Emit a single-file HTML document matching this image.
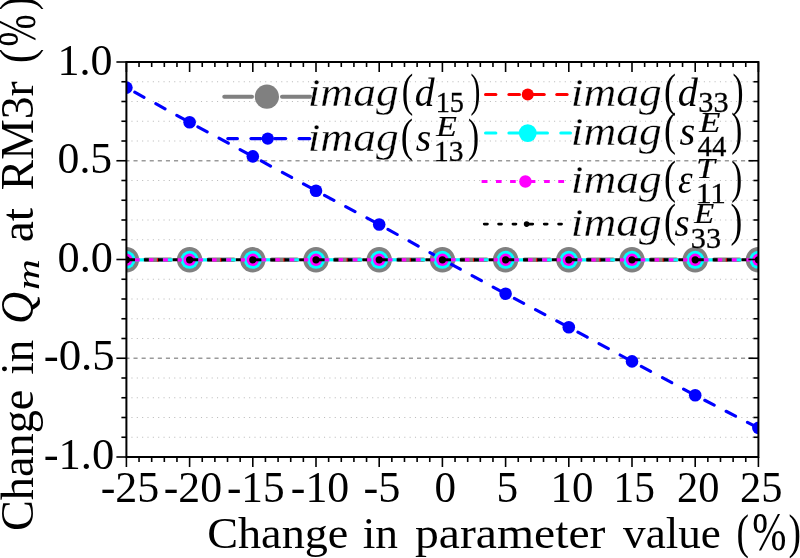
<!DOCTYPE html>
<html><head><meta charset="utf-8"><title>Change in Qm at RM3r</title>
<style>html,body{margin:0;padding:0;background:#fff;overflow:hidden}svg{display:block}</style></head>
<body>
<svg width="800" height="558" viewBox="0 0 800 558">
<defs><clipPath id="ax"><rect x="126.4" y="62.0" width="632.00" height="395.00"/></clipPath></defs>
<rect width="800" height="558" fill="#fff"/>
<g id="grid">
<line x1="126.4" x2="758.4" y1="437.25" y2="437.25" stroke="#bdbdbd" stroke-width="1.1" stroke-dasharray="1.1 4.25" stroke-dashoffset="-5"/>
<line x1="126.4" x2="758.4" y1="417.50" y2="417.50" stroke="#bdbdbd" stroke-width="1.1" stroke-dasharray="1.1 4.25" stroke-dashoffset="-5"/>
<line x1="126.4" x2="758.4" y1="397.75" y2="397.75" stroke="#bdbdbd" stroke-width="1.1" stroke-dasharray="1.1 4.25" stroke-dashoffset="-5"/>
<line x1="126.4" x2="758.4" y1="378.00" y2="378.00" stroke="#bdbdbd" stroke-width="1.1" stroke-dasharray="1.1 4.25" stroke-dashoffset="-5"/>
<line x1="126.4" x2="758.4" y1="358.25" y2="358.25" stroke="#9a9a9a" stroke-width="1.6" stroke-dasharray="4.1 4" stroke-dashoffset="1"/>
<line x1="126.4" x2="758.4" y1="338.50" y2="338.50" stroke="#bdbdbd" stroke-width="1.1" stroke-dasharray="1.1 4.25" stroke-dashoffset="-5"/>
<line x1="126.4" x2="758.4" y1="318.75" y2="318.75" stroke="#bdbdbd" stroke-width="1.1" stroke-dasharray="1.1 4.25" stroke-dashoffset="-5"/>
<line x1="126.4" x2="758.4" y1="299.00" y2="299.00" stroke="#bdbdbd" stroke-width="1.1" stroke-dasharray="1.1 4.25" stroke-dashoffset="-5"/>
<line x1="126.4" x2="758.4" y1="279.25" y2="279.25" stroke="#bdbdbd" stroke-width="1.1" stroke-dasharray="1.1 4.25" stroke-dashoffset="-5"/>
<line x1="126.4" x2="758.4" y1="259.50" y2="259.50" stroke="#9a9a9a" stroke-width="1.6" stroke-dasharray="4.1 4" stroke-dashoffset="1"/>
<line x1="126.4" x2="758.4" y1="239.75" y2="239.75" stroke="#bdbdbd" stroke-width="1.1" stroke-dasharray="1.1 4.25" stroke-dashoffset="-5"/>
<line x1="126.4" x2="758.4" y1="220.00" y2="220.00" stroke="#bdbdbd" stroke-width="1.1" stroke-dasharray="1.1 4.25" stroke-dashoffset="-5"/>
<line x1="126.4" x2="758.4" y1="200.25" y2="200.25" stroke="#bdbdbd" stroke-width="1.1" stroke-dasharray="1.1 4.25" stroke-dashoffset="-5"/>
<line x1="126.4" x2="758.4" y1="180.50" y2="180.50" stroke="#bdbdbd" stroke-width="1.1" stroke-dasharray="1.1 4.25" stroke-dashoffset="-5"/>
<line x1="126.4" x2="758.4" y1="160.75" y2="160.75" stroke="#9a9a9a" stroke-width="1.6" stroke-dasharray="4.1 4" stroke-dashoffset="1"/>
<line x1="126.4" x2="758.4" y1="141.00" y2="141.00" stroke="#bdbdbd" stroke-width="1.1" stroke-dasharray="1.1 4.25" stroke-dashoffset="-5"/>
<line x1="126.4" x2="758.4" y1="121.25" y2="121.25" stroke="#bdbdbd" stroke-width="1.1" stroke-dasharray="1.1 4.25" stroke-dashoffset="-5"/>
<line x1="126.4" x2="758.4" y1="101.50" y2="101.50" stroke="#bdbdbd" stroke-width="1.1" stroke-dasharray="1.1 4.25" stroke-dashoffset="-5"/>
<line x1="126.4" x2="758.4" y1="81.75" y2="81.75" stroke="#bdbdbd" stroke-width="1.1" stroke-dasharray="1.1 4.25" stroke-dashoffset="-5"/>
</g>
<g clip-path="url(#ax)">
<line x1="145.40" x2="170.70" y1="259.8" y2="259.8" stroke="#808080" stroke-width="4.4" stroke-linecap="round"/>
<line x1="208.60" x2="233.90" y1="259.8" y2="259.8" stroke="#808080" stroke-width="4.4" stroke-linecap="round"/>
<line x1="271.80" x2="297.10" y1="259.8" y2="259.8" stroke="#808080" stroke-width="4.4" stroke-linecap="round"/>
<line x1="335.00" x2="360.30" y1="259.8" y2="259.8" stroke="#808080" stroke-width="4.4" stroke-linecap="round"/>
<line x1="398.20" x2="423.50" y1="259.8" y2="259.8" stroke="#808080" stroke-width="4.4" stroke-linecap="round"/>
<line x1="461.40" x2="486.70" y1="259.8" y2="259.8" stroke="#808080" stroke-width="4.4" stroke-linecap="round"/>
<line x1="524.60" x2="549.90" y1="259.8" y2="259.8" stroke="#808080" stroke-width="4.4" stroke-linecap="round"/>
<line x1="587.80" x2="613.10" y1="259.8" y2="259.8" stroke="#808080" stroke-width="4.4" stroke-linecap="round"/>
<line x1="651.00" x2="676.30" y1="259.8" y2="259.8" stroke="#808080" stroke-width="4.4" stroke-linecap="round"/>
<line x1="714.20" x2="739.50" y1="259.8" y2="259.8" stroke="#808080" stroke-width="4.4" stroke-linecap="round"/>
<circle cx="126.40" cy="259.8" r="12.7" fill="#808080"/>
<circle cx="189.60" cy="259.8" r="12.7" fill="#808080"/>
<circle cx="252.80" cy="259.8" r="12.7" fill="#808080"/>
<circle cx="316.00" cy="259.8" r="12.7" fill="#808080"/>
<circle cx="379.20" cy="259.8" r="12.7" fill="#808080"/>
<circle cx="442.40" cy="259.8" r="12.7" fill="#808080"/>
<circle cx="505.60" cy="259.8" r="12.7" fill="#808080"/>
<circle cx="568.80" cy="259.8" r="12.7" fill="#808080"/>
<circle cx="632.00" cy="259.8" r="12.7" fill="#808080"/>
<circle cx="695.20" cy="259.8" r="12.7" fill="#808080"/>
<circle cx="758.40" cy="259.8" r="12.7" fill="#808080"/>
<polyline points="126.40,87.60 189.60,122.30 252.80,156.40 316.00,190.70 379.20,224.50 442.40,259.50 505.60,293.80 568.80,327.30 632.00,361.40 695.20,395.30 758.40,427.90" fill="none" stroke="#0000ff" stroke-width="3.1" stroke-linecap="round" stroke-dasharray="10.6 13.4" stroke-dashoffset="14.5"/>
<circle cx="126.40" cy="87.60" r="6.3" fill="#0000ff"/>
<circle cx="189.60" cy="122.30" r="6.3" fill="#0000ff"/>
<circle cx="252.80" cy="156.40" r="6.3" fill="#0000ff"/>
<circle cx="316.00" cy="190.70" r="6.3" fill="#0000ff"/>
<circle cx="379.20" cy="224.50" r="6.3" fill="#0000ff"/>
<circle cx="442.40" cy="259.50" r="6.3" fill="#0000ff"/>
<circle cx="505.60" cy="293.80" r="6.3" fill="#0000ff"/>
<circle cx="568.80" cy="327.30" r="6.3" fill="#0000ff"/>
<circle cx="632.00" cy="361.40" r="6.3" fill="#0000ff"/>
<circle cx="695.20" cy="395.30" r="6.3" fill="#0000ff"/>
<circle cx="758.40" cy="427.90" r="6.3" fill="#0000ff"/>
<line x1="156.90" x2="170.40" y1="259.8" y2="259.8" stroke="#ff0000" stroke-width="3.2" stroke-linecap="butt"/>
<line x1="220.10" x2="233.60" y1="259.8" y2="259.8" stroke="#ff0000" stroke-width="3.2" stroke-linecap="butt"/>
<line x1="283.30" x2="296.80" y1="259.8" y2="259.8" stroke="#ff0000" stroke-width="3.2" stroke-linecap="butt"/>
<line x1="346.50" x2="360.00" y1="259.8" y2="259.8" stroke="#ff0000" stroke-width="3.2" stroke-linecap="butt"/>
<line x1="409.70" x2="423.20" y1="259.8" y2="259.8" stroke="#ff0000" stroke-width="3.2" stroke-linecap="butt"/>
<line x1="472.90" x2="486.40" y1="259.8" y2="259.8" stroke="#ff0000" stroke-width="3.2" stroke-linecap="butt"/>
<line x1="536.10" x2="549.60" y1="259.8" y2="259.8" stroke="#ff0000" stroke-width="3.2" stroke-linecap="butt"/>
<line x1="599.30" x2="612.80" y1="259.8" y2="259.8" stroke="#ff0000" stroke-width="3.2" stroke-linecap="butt"/>
<line x1="662.50" x2="676.00" y1="259.8" y2="259.8" stroke="#ff0000" stroke-width="3.2" stroke-linecap="butt"/>
<line x1="725.70" x2="739.20" y1="259.8" y2="259.8" stroke="#ff0000" stroke-width="3.2" stroke-linecap="butt"/>
<circle cx="126.40" cy="259.8" r="6" fill="#ff0000"/>
<circle cx="189.60" cy="259.8" r="6" fill="#ff0000"/>
<circle cx="252.80" cy="259.8" r="6" fill="#ff0000"/>
<circle cx="316.00" cy="259.8" r="6" fill="#ff0000"/>
<circle cx="379.20" cy="259.8" r="6" fill="#ff0000"/>
<circle cx="442.40" cy="259.8" r="6" fill="#ff0000"/>
<circle cx="505.60" cy="259.8" r="6" fill="#ff0000"/>
<circle cx="568.80" cy="259.8" r="6" fill="#ff0000"/>
<circle cx="632.00" cy="259.8" r="6" fill="#ff0000"/>
<circle cx="695.20" cy="259.8" r="6" fill="#ff0000"/>
<circle cx="758.40" cy="259.8" r="6" fill="#ff0000"/>
<line x1="130.40" x2="143.90" y1="259.8" y2="259.8" stroke="#00ffff" stroke-width="3.2" stroke-linecap="butt"/>
<line x1="158.90" x2="172.40" y1="259.8" y2="259.8" stroke="#00ffff" stroke-width="3.2" stroke-linecap="butt"/>
<line x1="193.60" x2="207.10" y1="259.8" y2="259.8" stroke="#00ffff" stroke-width="3.2" stroke-linecap="butt"/>
<line x1="222.10" x2="235.60" y1="259.8" y2="259.8" stroke="#00ffff" stroke-width="3.2" stroke-linecap="butt"/>
<line x1="256.80" x2="270.30" y1="259.8" y2="259.8" stroke="#00ffff" stroke-width="3.2" stroke-linecap="butt"/>
<line x1="285.30" x2="298.80" y1="259.8" y2="259.8" stroke="#00ffff" stroke-width="3.2" stroke-linecap="butt"/>
<line x1="320.00" x2="333.50" y1="259.8" y2="259.8" stroke="#00ffff" stroke-width="3.2" stroke-linecap="butt"/>
<line x1="348.50" x2="362.00" y1="259.8" y2="259.8" stroke="#00ffff" stroke-width="3.2" stroke-linecap="butt"/>
<line x1="383.20" x2="396.70" y1="259.8" y2="259.8" stroke="#00ffff" stroke-width="3.2" stroke-linecap="butt"/>
<line x1="411.70" x2="425.20" y1="259.8" y2="259.8" stroke="#00ffff" stroke-width="3.2" stroke-linecap="butt"/>
<line x1="446.40" x2="459.90" y1="259.8" y2="259.8" stroke="#00ffff" stroke-width="3.2" stroke-linecap="butt"/>
<line x1="474.90" x2="488.40" y1="259.8" y2="259.8" stroke="#00ffff" stroke-width="3.2" stroke-linecap="butt"/>
<line x1="509.60" x2="523.10" y1="259.8" y2="259.8" stroke="#00ffff" stroke-width="3.2" stroke-linecap="butt"/>
<line x1="538.10" x2="551.60" y1="259.8" y2="259.8" stroke="#00ffff" stroke-width="3.2" stroke-linecap="butt"/>
<line x1="572.80" x2="586.30" y1="259.8" y2="259.8" stroke="#00ffff" stroke-width="3.2" stroke-linecap="butt"/>
<line x1="601.30" x2="614.80" y1="259.8" y2="259.8" stroke="#00ffff" stroke-width="3.2" stroke-linecap="butt"/>
<line x1="636.00" x2="649.50" y1="259.8" y2="259.8" stroke="#00ffff" stroke-width="3.2" stroke-linecap="butt"/>
<line x1="664.50" x2="678.00" y1="259.8" y2="259.8" stroke="#00ffff" stroke-width="3.2" stroke-linecap="butt"/>
<line x1="699.20" x2="712.70" y1="259.8" y2="259.8" stroke="#00ffff" stroke-width="3.2" stroke-linecap="butt"/>
<line x1="727.70" x2="741.20" y1="259.8" y2="259.8" stroke="#00ffff" stroke-width="3.2" stroke-linecap="butt"/>
<circle cx="126.40" cy="259.8" r="9" fill="#00ffff"/>
<circle cx="189.60" cy="259.8" r="9" fill="#00ffff"/>
<circle cx="252.80" cy="259.8" r="9" fill="#00ffff"/>
<circle cx="316.00" cy="259.8" r="9" fill="#00ffff"/>
<circle cx="379.20" cy="259.8" r="9" fill="#00ffff"/>
<circle cx="442.40" cy="259.8" r="9" fill="#00ffff"/>
<circle cx="505.60" cy="259.8" r="9" fill="#00ffff"/>
<circle cx="568.80" cy="259.8" r="9" fill="#00ffff"/>
<circle cx="632.00" cy="259.8" r="9" fill="#00ffff"/>
<circle cx="695.20" cy="259.8" r="9" fill="#00ffff"/>
<circle cx="758.40" cy="259.8" r="9" fill="#00ffff"/>
<line x1="135.00" x2="139.70" y1="259.8" y2="259.8" stroke="#ff00ff" stroke-width="3.2" stroke-linecap="butt"/>
<line x1="148.90" x2="153.40" y1="259.8" y2="259.8" stroke="#ff00ff" stroke-width="3.2" stroke-linecap="butt"/>
<line x1="163.00" x2="167.90" y1="259.8" y2="259.8" stroke="#ff00ff" stroke-width="3.2" stroke-linecap="butt"/>
<line x1="177.40" x2="181.90" y1="259.8" y2="259.8" stroke="#ff00ff" stroke-width="3.2" stroke-linecap="butt"/>
<line x1="198.20" x2="202.90" y1="259.8" y2="259.8" stroke="#ff00ff" stroke-width="3.2" stroke-linecap="butt"/>
<line x1="212.10" x2="216.60" y1="259.8" y2="259.8" stroke="#ff00ff" stroke-width="3.2" stroke-linecap="butt"/>
<line x1="226.20" x2="231.10" y1="259.8" y2="259.8" stroke="#ff00ff" stroke-width="3.2" stroke-linecap="butt"/>
<line x1="240.60" x2="245.10" y1="259.8" y2="259.8" stroke="#ff00ff" stroke-width="3.2" stroke-linecap="butt"/>
<line x1="261.40" x2="266.10" y1="259.8" y2="259.8" stroke="#ff00ff" stroke-width="3.2" stroke-linecap="butt"/>
<line x1="275.30" x2="279.80" y1="259.8" y2="259.8" stroke="#ff00ff" stroke-width="3.2" stroke-linecap="butt"/>
<line x1="289.40" x2="294.30" y1="259.8" y2="259.8" stroke="#ff00ff" stroke-width="3.2" stroke-linecap="butt"/>
<line x1="303.80" x2="308.30" y1="259.8" y2="259.8" stroke="#ff00ff" stroke-width="3.2" stroke-linecap="butt"/>
<line x1="324.60" x2="329.30" y1="259.8" y2="259.8" stroke="#ff00ff" stroke-width="3.2" stroke-linecap="butt"/>
<line x1="338.50" x2="343.00" y1="259.8" y2="259.8" stroke="#ff00ff" stroke-width="3.2" stroke-linecap="butt"/>
<line x1="352.60" x2="357.50" y1="259.8" y2="259.8" stroke="#ff00ff" stroke-width="3.2" stroke-linecap="butt"/>
<line x1="367.00" x2="371.50" y1="259.8" y2="259.8" stroke="#ff00ff" stroke-width="3.2" stroke-linecap="butt"/>
<line x1="387.80" x2="392.50" y1="259.8" y2="259.8" stroke="#ff00ff" stroke-width="3.2" stroke-linecap="butt"/>
<line x1="401.70" x2="406.20" y1="259.8" y2="259.8" stroke="#ff00ff" stroke-width="3.2" stroke-linecap="butt"/>
<line x1="415.80" x2="420.70" y1="259.8" y2="259.8" stroke="#ff00ff" stroke-width="3.2" stroke-linecap="butt"/>
<line x1="430.20" x2="434.70" y1="259.8" y2="259.8" stroke="#ff00ff" stroke-width="3.2" stroke-linecap="butt"/>
<line x1="451.00" x2="455.70" y1="259.8" y2="259.8" stroke="#ff00ff" stroke-width="3.2" stroke-linecap="butt"/>
<line x1="464.90" x2="469.40" y1="259.8" y2="259.8" stroke="#ff00ff" stroke-width="3.2" stroke-linecap="butt"/>
<line x1="479.00" x2="483.90" y1="259.8" y2="259.8" stroke="#ff00ff" stroke-width="3.2" stroke-linecap="butt"/>
<line x1="493.40" x2="497.90" y1="259.8" y2="259.8" stroke="#ff00ff" stroke-width="3.2" stroke-linecap="butt"/>
<line x1="514.20" x2="518.90" y1="259.8" y2="259.8" stroke="#ff00ff" stroke-width="3.2" stroke-linecap="butt"/>
<line x1="528.10" x2="532.60" y1="259.8" y2="259.8" stroke="#ff00ff" stroke-width="3.2" stroke-linecap="butt"/>
<line x1="542.20" x2="547.10" y1="259.8" y2="259.8" stroke="#ff00ff" stroke-width="3.2" stroke-linecap="butt"/>
<line x1="556.60" x2="561.10" y1="259.8" y2="259.8" stroke="#ff00ff" stroke-width="3.2" stroke-linecap="butt"/>
<line x1="577.40" x2="582.10" y1="259.8" y2="259.8" stroke="#ff00ff" stroke-width="3.2" stroke-linecap="butt"/>
<line x1="591.30" x2="595.80" y1="259.8" y2="259.8" stroke="#ff00ff" stroke-width="3.2" stroke-linecap="butt"/>
<line x1="605.40" x2="610.30" y1="259.8" y2="259.8" stroke="#ff00ff" stroke-width="3.2" stroke-linecap="butt"/>
<line x1="619.80" x2="624.30" y1="259.8" y2="259.8" stroke="#ff00ff" stroke-width="3.2" stroke-linecap="butt"/>
<line x1="640.60" x2="645.30" y1="259.8" y2="259.8" stroke="#ff00ff" stroke-width="3.2" stroke-linecap="butt"/>
<line x1="654.50" x2="659.00" y1="259.8" y2="259.8" stroke="#ff00ff" stroke-width="3.2" stroke-linecap="butt"/>
<line x1="668.60" x2="673.50" y1="259.8" y2="259.8" stroke="#ff00ff" stroke-width="3.2" stroke-linecap="butt"/>
<line x1="683.00" x2="687.50" y1="259.8" y2="259.8" stroke="#ff00ff" stroke-width="3.2" stroke-linecap="butt"/>
<line x1="703.80" x2="708.50" y1="259.8" y2="259.8" stroke="#ff00ff" stroke-width="3.2" stroke-linecap="butt"/>
<line x1="717.70" x2="722.20" y1="259.8" y2="259.8" stroke="#ff00ff" stroke-width="3.2" stroke-linecap="butt"/>
<line x1="731.80" x2="736.70" y1="259.8" y2="259.8" stroke="#ff00ff" stroke-width="3.2" stroke-linecap="butt"/>
<line x1="746.20" x2="750.70" y1="259.8" y2="259.8" stroke="#ff00ff" stroke-width="3.2" stroke-linecap="butt"/>
<circle cx="126.40" cy="259.8" r="6.2" fill="#ff00ff"/>
<circle cx="189.60" cy="259.8" r="6.2" fill="#ff00ff"/>
<circle cx="252.80" cy="259.8" r="6.2" fill="#ff00ff"/>
<circle cx="316.00" cy="259.8" r="6.2" fill="#ff00ff"/>
<circle cx="379.20" cy="259.8" r="6.2" fill="#ff00ff"/>
<circle cx="442.40" cy="259.8" r="6.2" fill="#ff00ff"/>
<circle cx="505.60" cy="259.8" r="6.2" fill="#ff00ff"/>
<circle cx="568.80" cy="259.8" r="6.2" fill="#ff00ff"/>
<circle cx="632.00" cy="259.8" r="6.2" fill="#ff00ff"/>
<circle cx="695.20" cy="259.8" r="6.2" fill="#ff00ff"/>
<circle cx="758.40" cy="259.8" r="6.2" fill="#ff00ff"/>
<line x1="126.40" x2="135.00" y1="259.8" y2="259.8" stroke="#000000" stroke-width="3.0" stroke-linecap="butt"/>
<line x1="143.90" x2="148.80" y1="259.8" y2="259.8" stroke="#000000" stroke-width="3.0" stroke-linecap="butt"/>
<line x1="158.00" x2="162.90" y1="259.8" y2="259.8" stroke="#000000" stroke-width="3.0" stroke-linecap="butt"/>
<line x1="172.80" x2="177.50" y1="259.8" y2="259.8" stroke="#000000" stroke-width="3.0" stroke-linecap="butt"/>
<line x1="189.60" x2="198.20" y1="259.8" y2="259.8" stroke="#000000" stroke-width="3.0" stroke-linecap="butt"/>
<line x1="207.10" x2="212.00" y1="259.8" y2="259.8" stroke="#000000" stroke-width="3.0" stroke-linecap="butt"/>
<line x1="221.20" x2="226.10" y1="259.8" y2="259.8" stroke="#000000" stroke-width="3.0" stroke-linecap="butt"/>
<line x1="236.00" x2="240.70" y1="259.8" y2="259.8" stroke="#000000" stroke-width="3.0" stroke-linecap="butt"/>
<line x1="252.80" x2="261.40" y1="259.8" y2="259.8" stroke="#000000" stroke-width="3.0" stroke-linecap="butt"/>
<line x1="270.30" x2="275.20" y1="259.8" y2="259.8" stroke="#000000" stroke-width="3.0" stroke-linecap="butt"/>
<line x1="284.40" x2="289.30" y1="259.8" y2="259.8" stroke="#000000" stroke-width="3.0" stroke-linecap="butt"/>
<line x1="299.20" x2="303.90" y1="259.8" y2="259.8" stroke="#000000" stroke-width="3.0" stroke-linecap="butt"/>
<line x1="316.00" x2="324.60" y1="259.8" y2="259.8" stroke="#000000" stroke-width="3.0" stroke-linecap="butt"/>
<line x1="333.50" x2="338.40" y1="259.8" y2="259.8" stroke="#000000" stroke-width="3.0" stroke-linecap="butt"/>
<line x1="347.60" x2="352.50" y1="259.8" y2="259.8" stroke="#000000" stroke-width="3.0" stroke-linecap="butt"/>
<line x1="362.40" x2="367.10" y1="259.8" y2="259.8" stroke="#000000" stroke-width="3.0" stroke-linecap="butt"/>
<line x1="379.20" x2="387.80" y1="259.8" y2="259.8" stroke="#000000" stroke-width="3.0" stroke-linecap="butt"/>
<line x1="396.70" x2="401.60" y1="259.8" y2="259.8" stroke="#000000" stroke-width="3.0" stroke-linecap="butt"/>
<line x1="410.80" x2="415.70" y1="259.8" y2="259.8" stroke="#000000" stroke-width="3.0" stroke-linecap="butt"/>
<line x1="425.60" x2="430.30" y1="259.8" y2="259.8" stroke="#000000" stroke-width="3.0" stroke-linecap="butt"/>
<line x1="442.40" x2="451.00" y1="259.8" y2="259.8" stroke="#000000" stroke-width="3.0" stroke-linecap="butt"/>
<line x1="459.90" x2="464.80" y1="259.8" y2="259.8" stroke="#000000" stroke-width="3.0" stroke-linecap="butt"/>
<line x1="474.00" x2="478.90" y1="259.8" y2="259.8" stroke="#000000" stroke-width="3.0" stroke-linecap="butt"/>
<line x1="488.80" x2="493.50" y1="259.8" y2="259.8" stroke="#000000" stroke-width="3.0" stroke-linecap="butt"/>
<line x1="505.60" x2="514.20" y1="259.8" y2="259.8" stroke="#000000" stroke-width="3.0" stroke-linecap="butt"/>
<line x1="523.10" x2="528.00" y1="259.8" y2="259.8" stroke="#000000" stroke-width="3.0" stroke-linecap="butt"/>
<line x1="537.20" x2="542.10" y1="259.8" y2="259.8" stroke="#000000" stroke-width="3.0" stroke-linecap="butt"/>
<line x1="552.00" x2="556.70" y1="259.8" y2="259.8" stroke="#000000" stroke-width="3.0" stroke-linecap="butt"/>
<line x1="568.80" x2="577.40" y1="259.8" y2="259.8" stroke="#000000" stroke-width="3.0" stroke-linecap="butt"/>
<line x1="586.30" x2="591.20" y1="259.8" y2="259.8" stroke="#000000" stroke-width="3.0" stroke-linecap="butt"/>
<line x1="600.40" x2="605.30" y1="259.8" y2="259.8" stroke="#000000" stroke-width="3.0" stroke-linecap="butt"/>
<line x1="615.20" x2="619.90" y1="259.8" y2="259.8" stroke="#000000" stroke-width="3.0" stroke-linecap="butt"/>
<line x1="632.00" x2="640.60" y1="259.8" y2="259.8" stroke="#000000" stroke-width="3.0" stroke-linecap="butt"/>
<line x1="649.50" x2="654.40" y1="259.8" y2="259.8" stroke="#000000" stroke-width="3.0" stroke-linecap="butt"/>
<line x1="663.60" x2="668.50" y1="259.8" y2="259.8" stroke="#000000" stroke-width="3.0" stroke-linecap="butt"/>
<line x1="678.40" x2="683.10" y1="259.8" y2="259.8" stroke="#000000" stroke-width="3.0" stroke-linecap="butt"/>
<line x1="695.20" x2="703.80" y1="259.8" y2="259.8" stroke="#000000" stroke-width="3.0" stroke-linecap="butt"/>
<line x1="712.70" x2="717.60" y1="259.8" y2="259.8" stroke="#000000" stroke-width="3.0" stroke-linecap="butt"/>
<line x1="726.80" x2="731.70" y1="259.8" y2="259.8" stroke="#000000" stroke-width="3.0" stroke-linecap="butt"/>
<line x1="741.60" x2="746.30" y1="259.8" y2="259.8" stroke="#000000" stroke-width="3.0" stroke-linecap="butt"/>
<circle cx="126.40" cy="259.8" r="3.6" fill="#000000"/>
<circle cx="189.60" cy="259.8" r="3.6" fill="#000000"/>
<circle cx="252.80" cy="259.8" r="3.6" fill="#000000"/>
<circle cx="316.00" cy="259.8" r="3.6" fill="#000000"/>
<circle cx="379.20" cy="259.8" r="3.6" fill="#000000"/>
<circle cx="442.40" cy="259.8" r="3.6" fill="#000000"/>
<circle cx="505.60" cy="259.8" r="3.6" fill="#000000"/>
<circle cx="568.80" cy="259.8" r="3.6" fill="#000000"/>
<circle cx="632.00" cy="259.8" r="3.6" fill="#000000"/>
<circle cx="695.20" cy="259.8" r="3.6" fill="#000000"/>
<circle cx="758.40" cy="259.8" r="3.6" fill="#000000"/>
</g>
<g stroke="#000" stroke-width="2" fill="none">
<rect x="126.4" y="62.0" width="632.00" height="395.00"/>
<line x1="126.40" x2="126.40" y1="457.0" y2="467.0" stroke-width="1.6"/>
<line x1="126.40" x2="126.40" y1="62.0" y2="72.0" stroke-width="1.6"/>
<line x1="139.04" x2="139.04" y1="457.0" y2="462.0" stroke-width="1.6"/>
<line x1="139.04" x2="139.04" y1="62.0" y2="67.0" stroke-width="1.6"/>
<line x1="151.68" x2="151.68" y1="457.0" y2="462.0" stroke-width="1.6"/>
<line x1="151.68" x2="151.68" y1="62.0" y2="67.0" stroke-width="1.6"/>
<line x1="164.32" x2="164.32" y1="457.0" y2="462.0" stroke-width="1.6"/>
<line x1="164.32" x2="164.32" y1="62.0" y2="67.0" stroke-width="1.6"/>
<line x1="176.96" x2="176.96" y1="457.0" y2="462.0" stroke-width="1.6"/>
<line x1="176.96" x2="176.96" y1="62.0" y2="67.0" stroke-width="1.6"/>
<line x1="189.60" x2="189.60" y1="457.0" y2="467.0" stroke-width="1.6"/>
<line x1="189.60" x2="189.60" y1="62.0" y2="72.0" stroke-width="1.6"/>
<line x1="202.24" x2="202.24" y1="457.0" y2="462.0" stroke-width="1.6"/>
<line x1="202.24" x2="202.24" y1="62.0" y2="67.0" stroke-width="1.6"/>
<line x1="214.88" x2="214.88" y1="457.0" y2="462.0" stroke-width="1.6"/>
<line x1="214.88" x2="214.88" y1="62.0" y2="67.0" stroke-width="1.6"/>
<line x1="227.52" x2="227.52" y1="457.0" y2="462.0" stroke-width="1.6"/>
<line x1="227.52" x2="227.52" y1="62.0" y2="67.0" stroke-width="1.6"/>
<line x1="240.16" x2="240.16" y1="457.0" y2="462.0" stroke-width="1.6"/>
<line x1="240.16" x2="240.16" y1="62.0" y2="67.0" stroke-width="1.6"/>
<line x1="252.80" x2="252.80" y1="457.0" y2="467.0" stroke-width="1.6"/>
<line x1="252.80" x2="252.80" y1="62.0" y2="72.0" stroke-width="1.6"/>
<line x1="265.44" x2="265.44" y1="457.0" y2="462.0" stroke-width="1.6"/>
<line x1="265.44" x2="265.44" y1="62.0" y2="67.0" stroke-width="1.6"/>
<line x1="278.08" x2="278.08" y1="457.0" y2="462.0" stroke-width="1.6"/>
<line x1="278.08" x2="278.08" y1="62.0" y2="67.0" stroke-width="1.6"/>
<line x1="290.72" x2="290.72" y1="457.0" y2="462.0" stroke-width="1.6"/>
<line x1="290.72" x2="290.72" y1="62.0" y2="67.0" stroke-width="1.6"/>
<line x1="303.36" x2="303.36" y1="457.0" y2="462.0" stroke-width="1.6"/>
<line x1="303.36" x2="303.36" y1="62.0" y2="67.0" stroke-width="1.6"/>
<line x1="316.00" x2="316.00" y1="457.0" y2="467.0" stroke-width="1.6"/>
<line x1="316.00" x2="316.00" y1="62.0" y2="72.0" stroke-width="1.6"/>
<line x1="328.64" x2="328.64" y1="457.0" y2="462.0" stroke-width="1.6"/>
<line x1="328.64" x2="328.64" y1="62.0" y2="67.0" stroke-width="1.6"/>
<line x1="341.28" x2="341.28" y1="457.0" y2="462.0" stroke-width="1.6"/>
<line x1="341.28" x2="341.28" y1="62.0" y2="67.0" stroke-width="1.6"/>
<line x1="353.92" x2="353.92" y1="457.0" y2="462.0" stroke-width="1.6"/>
<line x1="353.92" x2="353.92" y1="62.0" y2="67.0" stroke-width="1.6"/>
<line x1="366.56" x2="366.56" y1="457.0" y2="462.0" stroke-width="1.6"/>
<line x1="366.56" x2="366.56" y1="62.0" y2="67.0" stroke-width="1.6"/>
<line x1="379.20" x2="379.20" y1="457.0" y2="467.0" stroke-width="1.6"/>
<line x1="379.20" x2="379.20" y1="62.0" y2="72.0" stroke-width="1.6"/>
<line x1="391.84" x2="391.84" y1="457.0" y2="462.0" stroke-width="1.6"/>
<line x1="391.84" x2="391.84" y1="62.0" y2="67.0" stroke-width="1.6"/>
<line x1="404.48" x2="404.48" y1="457.0" y2="462.0" stroke-width="1.6"/>
<line x1="404.48" x2="404.48" y1="62.0" y2="67.0" stroke-width="1.6"/>
<line x1="417.12" x2="417.12" y1="457.0" y2="462.0" stroke-width="1.6"/>
<line x1="417.12" x2="417.12" y1="62.0" y2="67.0" stroke-width="1.6"/>
<line x1="429.76" x2="429.76" y1="457.0" y2="462.0" stroke-width="1.6"/>
<line x1="429.76" x2="429.76" y1="62.0" y2="67.0" stroke-width="1.6"/>
<line x1="442.40" x2="442.40" y1="457.0" y2="467.0" stroke-width="1.6"/>
<line x1="442.40" x2="442.40" y1="62.0" y2="72.0" stroke-width="1.6"/>
<line x1="455.04" x2="455.04" y1="457.0" y2="462.0" stroke-width="1.6"/>
<line x1="455.04" x2="455.04" y1="62.0" y2="67.0" stroke-width="1.6"/>
<line x1="467.68" x2="467.68" y1="457.0" y2="462.0" stroke-width="1.6"/>
<line x1="467.68" x2="467.68" y1="62.0" y2="67.0" stroke-width="1.6"/>
<line x1="480.32" x2="480.32" y1="457.0" y2="462.0" stroke-width="1.6"/>
<line x1="480.32" x2="480.32" y1="62.0" y2="67.0" stroke-width="1.6"/>
<line x1="492.96" x2="492.96" y1="457.0" y2="462.0" stroke-width="1.6"/>
<line x1="492.96" x2="492.96" y1="62.0" y2="67.0" stroke-width="1.6"/>
<line x1="505.60" x2="505.60" y1="457.0" y2="467.0" stroke-width="1.6"/>
<line x1="505.60" x2="505.60" y1="62.0" y2="72.0" stroke-width="1.6"/>
<line x1="518.24" x2="518.24" y1="457.0" y2="462.0" stroke-width="1.6"/>
<line x1="518.24" x2="518.24" y1="62.0" y2="67.0" stroke-width="1.6"/>
<line x1="530.88" x2="530.88" y1="457.0" y2="462.0" stroke-width="1.6"/>
<line x1="530.88" x2="530.88" y1="62.0" y2="67.0" stroke-width="1.6"/>
<line x1="543.52" x2="543.52" y1="457.0" y2="462.0" stroke-width="1.6"/>
<line x1="543.52" x2="543.52" y1="62.0" y2="67.0" stroke-width="1.6"/>
<line x1="556.16" x2="556.16" y1="457.0" y2="462.0" stroke-width="1.6"/>
<line x1="556.16" x2="556.16" y1="62.0" y2="67.0" stroke-width="1.6"/>
<line x1="568.80" x2="568.80" y1="457.0" y2="467.0" stroke-width="1.6"/>
<line x1="568.80" x2="568.80" y1="62.0" y2="72.0" stroke-width="1.6"/>
<line x1="581.44" x2="581.44" y1="457.0" y2="462.0" stroke-width="1.6"/>
<line x1="581.44" x2="581.44" y1="62.0" y2="67.0" stroke-width="1.6"/>
<line x1="594.08" x2="594.08" y1="457.0" y2="462.0" stroke-width="1.6"/>
<line x1="594.08" x2="594.08" y1="62.0" y2="67.0" stroke-width="1.6"/>
<line x1="606.72" x2="606.72" y1="457.0" y2="462.0" stroke-width="1.6"/>
<line x1="606.72" x2="606.72" y1="62.0" y2="67.0" stroke-width="1.6"/>
<line x1="619.36" x2="619.36" y1="457.0" y2="462.0" stroke-width="1.6"/>
<line x1="619.36" x2="619.36" y1="62.0" y2="67.0" stroke-width="1.6"/>
<line x1="632.00" x2="632.00" y1="457.0" y2="467.0" stroke-width="1.6"/>
<line x1="632.00" x2="632.00" y1="62.0" y2="72.0" stroke-width="1.6"/>
<line x1="644.64" x2="644.64" y1="457.0" y2="462.0" stroke-width="1.6"/>
<line x1="644.64" x2="644.64" y1="62.0" y2="67.0" stroke-width="1.6"/>
<line x1="657.28" x2="657.28" y1="457.0" y2="462.0" stroke-width="1.6"/>
<line x1="657.28" x2="657.28" y1="62.0" y2="67.0" stroke-width="1.6"/>
<line x1="669.92" x2="669.92" y1="457.0" y2="462.0" stroke-width="1.6"/>
<line x1="669.92" x2="669.92" y1="62.0" y2="67.0" stroke-width="1.6"/>
<line x1="682.56" x2="682.56" y1="457.0" y2="462.0" stroke-width="1.6"/>
<line x1="682.56" x2="682.56" y1="62.0" y2="67.0" stroke-width="1.6"/>
<line x1="695.20" x2="695.20" y1="457.0" y2="467.0" stroke-width="1.6"/>
<line x1="695.20" x2="695.20" y1="62.0" y2="72.0" stroke-width="1.6"/>
<line x1="707.84" x2="707.84" y1="457.0" y2="462.0" stroke-width="1.6"/>
<line x1="707.84" x2="707.84" y1="62.0" y2="67.0" stroke-width="1.6"/>
<line x1="720.48" x2="720.48" y1="457.0" y2="462.0" stroke-width="1.6"/>
<line x1="720.48" x2="720.48" y1="62.0" y2="67.0" stroke-width="1.6"/>
<line x1="733.12" x2="733.12" y1="457.0" y2="462.0" stroke-width="1.6"/>
<line x1="733.12" x2="733.12" y1="62.0" y2="67.0" stroke-width="1.6"/>
<line x1="745.76" x2="745.76" y1="457.0" y2="462.0" stroke-width="1.6"/>
<line x1="745.76" x2="745.76" y1="62.0" y2="67.0" stroke-width="1.6"/>
<line x1="758.40" x2="758.40" y1="457.0" y2="467.0" stroke-width="1.6"/>
<line x1="758.40" x2="758.40" y1="62.0" y2="72.0" stroke-width="1.6"/>
<line x1="116.4" x2="126.4" y1="457.00" y2="457.00" stroke-width="1.6"/>
<line x1="748.4" x2="758.4" y1="457.00" y2="457.00" stroke-width="1.6"/>
<line x1="121.4" x2="126.4" y1="437.25" y2="437.25" stroke-width="1.6"/>
<line x1="753.4" x2="758.4" y1="437.25" y2="437.25" stroke-width="1.6"/>
<line x1="121.4" x2="126.4" y1="417.50" y2="417.50" stroke-width="1.6"/>
<line x1="753.4" x2="758.4" y1="417.50" y2="417.50" stroke-width="1.6"/>
<line x1="121.4" x2="126.4" y1="397.75" y2="397.75" stroke-width="1.6"/>
<line x1="753.4" x2="758.4" y1="397.75" y2="397.75" stroke-width="1.6"/>
<line x1="121.4" x2="126.4" y1="378.00" y2="378.00" stroke-width="1.6"/>
<line x1="753.4" x2="758.4" y1="378.00" y2="378.00" stroke-width="1.6"/>
<line x1="116.4" x2="126.4" y1="358.25" y2="358.25" stroke-width="1.6"/>
<line x1="748.4" x2="758.4" y1="358.25" y2="358.25" stroke-width="1.6"/>
<line x1="121.4" x2="126.4" y1="338.50" y2="338.50" stroke-width="1.6"/>
<line x1="753.4" x2="758.4" y1="338.50" y2="338.50" stroke-width="1.6"/>
<line x1="121.4" x2="126.4" y1="318.75" y2="318.75" stroke-width="1.6"/>
<line x1="753.4" x2="758.4" y1="318.75" y2="318.75" stroke-width="1.6"/>
<line x1="121.4" x2="126.4" y1="299.00" y2="299.00" stroke-width="1.6"/>
<line x1="753.4" x2="758.4" y1="299.00" y2="299.00" stroke-width="1.6"/>
<line x1="121.4" x2="126.4" y1="279.25" y2="279.25" stroke-width="1.6"/>
<line x1="753.4" x2="758.4" y1="279.25" y2="279.25" stroke-width="1.6"/>
<line x1="116.4" x2="126.4" y1="259.50" y2="259.50" stroke-width="1.6"/>
<line x1="748.4" x2="758.4" y1="259.50" y2="259.50" stroke-width="1.6"/>
<line x1="121.4" x2="126.4" y1="239.75" y2="239.75" stroke-width="1.6"/>
<line x1="753.4" x2="758.4" y1="239.75" y2="239.75" stroke-width="1.6"/>
<line x1="121.4" x2="126.4" y1="220.00" y2="220.00" stroke-width="1.6"/>
<line x1="753.4" x2="758.4" y1="220.00" y2="220.00" stroke-width="1.6"/>
<line x1="121.4" x2="126.4" y1="200.25" y2="200.25" stroke-width="1.6"/>
<line x1="753.4" x2="758.4" y1="200.25" y2="200.25" stroke-width="1.6"/>
<line x1="121.4" x2="126.4" y1="180.50" y2="180.50" stroke-width="1.6"/>
<line x1="753.4" x2="758.4" y1="180.50" y2="180.50" stroke-width="1.6"/>
<line x1="116.4" x2="126.4" y1="160.75" y2="160.75" stroke-width="1.6"/>
<line x1="748.4" x2="758.4" y1="160.75" y2="160.75" stroke-width="1.6"/>
<line x1="121.4" x2="126.4" y1="141.00" y2="141.00" stroke-width="1.6"/>
<line x1="753.4" x2="758.4" y1="141.00" y2="141.00" stroke-width="1.6"/>
<line x1="121.4" x2="126.4" y1="121.25" y2="121.25" stroke-width="1.6"/>
<line x1="753.4" x2="758.4" y1="121.25" y2="121.25" stroke-width="1.6"/>
<line x1="121.4" x2="126.4" y1="101.50" y2="101.50" stroke-width="1.6"/>
<line x1="753.4" x2="758.4" y1="101.50" y2="101.50" stroke-width="1.6"/>
<line x1="121.4" x2="126.4" y1="81.75" y2="81.75" stroke-width="1.6"/>
<line x1="753.4" x2="758.4" y1="81.75" y2="81.75" stroke-width="1.6"/>
<line x1="116.4" x2="126.4" y1="62.00" y2="62.00" stroke-width="1.6"/>
<line x1="748.4" x2="758.4" y1="62.00" y2="62.00" stroke-width="1.6"/>
</g>
<line x1="224.25" x2="252.00" y1="96.8" y2="96.8" stroke="#808080" stroke-width="4" stroke-linecap="round"/>
<line x1="282.00" x2="310.25" y1="96.8" y2="96.8" stroke="#808080" stroke-width="4" stroke-linecap="round"/>
<circle cx="266.9" cy="96.7" r="12.1" fill="#808080"/>
<line x1="227.80" x2="237.45" y1="138.6" y2="138.6" stroke="#0000ff" stroke-width="3.1" stroke-linecap="round"/>
<line x1="250.95" x2="260.95" y1="138.6" y2="138.6" stroke="#0000ff" stroke-width="3.1" stroke-linecap="round"/>
<line x1="274.55" x2="285.70" y1="138.6" y2="138.6" stroke="#0000ff" stroke-width="3.1" stroke-linecap="round"/>
<line x1="299.05" x2="309.70" y1="138.6" y2="138.6" stroke="#0000ff" stroke-width="3.1" stroke-linecap="round"/>
<circle cx="267.75" cy="138.6" r="6.1" fill="#0000ff"/>
<line x1="485.50" x2="495.90" y1="94.4" y2="94.4" stroke="#ff0000" stroke-width="3" stroke-linecap="round"/>
<line x1="508.90" x2="519.50" y1="94.4" y2="94.4" stroke="#ff0000" stroke-width="3" stroke-linecap="round"/>
<line x1="533.00" x2="544.25" y1="94.4" y2="94.4" stroke="#ff0000" stroke-width="3" stroke-linecap="round"/>
<line x1="556.75" x2="567.10" y1="94.4" y2="94.4" stroke="#ff0000" stroke-width="3" stroke-linecap="round"/>
<circle cx="527.75" cy="94.4" r="6" fill="#ff0000"/>
<line x1="485.50" x2="495.90" y1="133.1" y2="133.1" stroke="#00ffff" stroke-width="3" stroke-linecap="round"/>
<line x1="508.90" x2="519.50" y1="133.1" y2="133.1" stroke="#00ffff" stroke-width="3" stroke-linecap="round"/>
<line x1="535.50" x2="547.50" y1="133.1" y2="133.1" stroke="#00ffff" stroke-width="3" stroke-linecap="round"/>
<line x1="560.75" x2="570.50" y1="133.1" y2="133.1" stroke="#00ffff" stroke-width="3" stroke-linecap="round"/>
<circle cx="527.75" cy="133.1" r="8.9" fill="#00ffff"/>
<line x1="481.60" x2="487.50" y1="181.5" y2="181.5" stroke="#ff00ff" stroke-width="3" stroke-linecap="butt"/>
<line x1="496.00" x2="501.60" y1="181.5" y2="181.5" stroke="#ff00ff" stroke-width="3" stroke-linecap="butt"/>
<line x1="510.10" x2="515.75" y1="181.5" y2="181.5" stroke="#ff00ff" stroke-width="3" stroke-linecap="butt"/>
<line x1="524.00" x2="535.40" y1="181.5" y2="181.5" stroke="#ff00ff" stroke-width="3" stroke-linecap="butt"/>
<line x1="544.10" x2="549.75" y1="181.5" y2="181.5" stroke="#ff00ff" stroke-width="3" stroke-linecap="butt"/>
<line x1="558.25" x2="564.10" y1="181.5" y2="181.5" stroke="#ff00ff" stroke-width="3" stroke-linecap="butt"/>
<circle cx="525.4" cy="181.5" r="6.25" fill="#ff00ff"/>
<line x1="484.30" x2="487.35" y1="224.1" y2="224.1" stroke="#000000" stroke-width="2.9" stroke-linecap="round"/>
<line x1="498.65" x2="501.50" y1="224.1" y2="224.1" stroke="#000000" stroke-width="2.9" stroke-linecap="round"/>
<line x1="513.00" x2="515.85" y1="224.1" y2="224.1" stroke="#000000" stroke-width="2.9" stroke-linecap="round"/>
<line x1="527.40" x2="532.70" y1="224.1" y2="224.1" stroke="#000000" stroke-width="2.9" stroke-linecap="round"/>
<line x1="544.30" x2="547.10" y1="224.1" y2="224.1" stroke="#000000" stroke-width="2.9" stroke-linecap="round"/>
<line x1="558.65" x2="561.50" y1="224.1" y2="224.1" stroke="#000000" stroke-width="2.9" stroke-linecap="round"/>
<circle cx="526.6" cy="224.1" r="2.8" fill="#000000"/>
<g fill="#000">
<g transform="translate(57.50,74.50) scale(1.0000,1.0)"><text font-family="Liberation Serif" font-size="44">1.0</text></g>
<g transform="translate(57.51,173.30) scale(0.9943,1.0)"><text font-family="Liberation Serif" font-size="44">0.5</text></g>
<g transform="translate(57.59,272.10) scale(1.0075,1.0)"><text font-family="Liberation Serif" font-size="44">0.0</text></g>
<g transform="translate(43.68,369.90) scale(1.0209,1.0)"><text font-family="Liberation Serif" font-size="44">-0.5</text></g>
<g transform="translate(43.69,469.40) scale(1.0147,1.0)"><text font-family="Liberation Serif" font-size="44">-1.0</text></g>
<g transform="translate(100.70,501.80) scale(1.0000,1.0)"><text font-family="Liberation Serif" font-size="44">-25</text></g>
<g transform="translate(163.71,501.80) scale(0.9947,1.0)"><text font-family="Liberation Serif" font-size="44">-20</text></g>
<g transform="translate(226.92,501.80) scale(0.9839,1.0)"><text font-family="Liberation Serif" font-size="44">-15</text></g>
<g transform="translate(290.80,501.80) scale(0.9965,1.0)"><text font-family="Liberation Serif" font-size="44">-10</text></g>
<g transform="translate(363.39,501.80) scale(1.0088,1.0)"><text font-family="Liberation Serif" font-size="44">-5</text></g>
<g transform="translate(434.42,501.80) scale(0.9800,1.0)"><text font-family="Liberation Serif" font-size="44">0</text></g>
<g transform="translate(496.43,501.80) scale(0.9842,1.0)"><text font-family="Liberation Serif" font-size="44">5</text></g>
<g transform="translate(550.48,501.80) scale(0.9750,1.0)"><text font-family="Liberation Serif" font-size="44">10</text></g>
<g transform="translate(613.48,501.80) scale(0.9400,1.0)"><text font-family="Liberation Serif" font-size="44">15</text></g>
<g transform="translate(677.04,501.80) scale(0.9643,1.0)"><text font-family="Liberation Serif" font-size="44">20</text></g>
<g transform="translate(740.04,501.80) scale(0.9643,1.0)"><text font-family="Liberation Serif" font-size="44">25</text></g>
<g transform="translate(207.17,547.50) scale(1.0274,1.0)"><text font-family="Liberation Serif" font-size="45">Change</text></g>
<g transform="translate(362.74,547.50) scale(1.0103,1.0)"><text font-family="Liberation Serif" font-size="45">in</text></g>
<g transform="translate(415.00,547.50) scale(1.0589,1.0)"><text font-family="Liberation Serif" font-size="45">parameter</text></g>
<g transform="translate(623.10,547.50) scale(1.0031,1.0)"><text font-family="Liberation Serif" font-size="45">value</text></g>
<g transform="translate(736.43,548.42) scale(0.8333,1.0976)"><text font-family="Liberation Serif" font-size="45">(</text></g>
<g transform="translate(752.19,549.60) scale(0.9114,1.2138)"><text font-family="Liberation Serif" font-size="45">%</text></g>
<g transform="translate(788.57,548.42) scale(0.8333,1.0976)"><text font-family="Liberation Serif" font-size="45">)</text></g>
<g transform="translate(32.50,531.00) rotate(-90) scale(0.9950,1.0)"><text font-family="Liberation Serif" font-size="46.5">Change</text></g>
<g transform="translate(32.50,374.87) rotate(-90) scale(0.9686,1.0)"><text font-family="Liberation Serif" font-size="46.5">in</text></g>
<g transform="translate(32.50,324.11) rotate(-90) scale(0.9548,1.0)"><text font-family="Liberation Serif" font-style="italic" font-size="46.5">Q</text></g>
<g transform="translate(39.00,289.91) rotate(-90) scale(1.3143,1.0)"><text font-family="Liberation Serif" font-style="italic" font-size="32.55">m</text></g>
<g transform="translate(32.80,242.32) rotate(-90) scale(1.0212,1.0)"><text font-family="Liberation Serif" font-size="46.5">at</text></g>
<g transform="translate(32.50,190.18) rotate(-90) scale(0.9809,1.0)"><text font-family="Liberation Serif" font-size="46.5">RM3r</text></g>
<g transform="translate(33.28,63.28) rotate(-90) scale(0.9417,1.0465)"><text font-family="Liberation Serif" font-size="46.5">(</text></g>
<g transform="translate(35.00,46.53) rotate(-90) scale(0.8297,1.1694)"><text font-family="Liberation Serif" font-size="46.5">%</text></g>
<g transform="translate(33.28,10.27) rotate(-90) scale(0.8692,1.0465)"><text font-family="Liberation Serif" font-size="46.5">)</text></g>
<g transform="translate(307.70,105.50) scale(1.1513,1.0)"><text font-family="Liberation Serif" font-style="italic" stroke="#fff" stroke-width="0.3" font-size="39.5">imag</text></g>
<g transform="translate(401.70,105.50) scale(0.7500,1.0)"><text font-family="Liberation Serif" font-size="46">(</text></g>
<g transform="translate(414.79,105.50) scale(1.0053,1.0)"><text font-family="Liberation Serif" font-style="italic" font-size="39.5">d</text></g>
<g transform="translate(435.71,111.60) scale(0.9962,1.0)"><text font-family="Liberation Serif" stroke="#000" stroke-width="0.3" font-size="28.439999999999998">15</text></g>
<g transform="translate(470.55,105.50) scale(0.6462,1.0)"><text font-family="Liberation Serif" font-size="46">)</text></g>
<g transform="translate(307.70,151.00) scale(1.1513,1.0)"><text font-family="Liberation Serif" font-style="italic" stroke="#fff" stroke-width="0.3" font-size="39.5">imag</text></g>
<g transform="translate(400.70,151.00) scale(0.8000,1.0)"><text font-family="Liberation Serif" font-size="46">(</text></g>
<g transform="translate(415.80,151.00) scale(1.0071,1.0)"><text font-family="Liberation Serif" font-style="italic" font-size="39.5">s</text></g>
<g transform="translate(436.18,136.40) scale(1.1833,1.0)"><text font-family="Liberation Serif" font-style="italic" stroke="#000" stroke-width="0.2" font-size="28.439999999999998">E</text></g>
<g transform="translate(433.92,161.10) scale(1.0385,1.0)"><text font-family="Liberation Serif" stroke="#000" stroke-width="0.3" font-size="28.439999999999998">13</text></g>
<g transform="translate(467.97,151.00) scale(0.7308,1.0)"><text font-family="Liberation Serif" font-size="46">)</text></g>
<g transform="translate(570.80,105.50) scale(1.1513,1.0)"><text font-family="Liberation Serif" font-style="italic" stroke="#fff" stroke-width="0.3" font-size="39.5">imag</text></g>
<g transform="translate(664.03,105.50) scale(0.7833,1.0)"><text font-family="Liberation Serif" font-size="46">(</text></g>
<g transform="translate(677.73,105.50) scale(1.0184,1.0)"><text font-family="Liberation Serif" font-style="italic" font-size="39.5">d</text></g>
<g transform="translate(698.34,111.90) scale(1.0630,1.0)"><text font-family="Liberation Serif" stroke="#000" stroke-width="0.3" font-size="28.439999999999998">33</text></g>
<g transform="translate(732.38,105.50) scale(0.7231,1.0)"><text font-family="Liberation Serif" font-size="46">)</text></g>
<g transform="translate(570.80,145.40) scale(1.1513,1.0)"><text font-family="Liberation Serif" font-style="italic" stroke="#fff" stroke-width="0.3" font-size="39.5">imag</text></g>
<g transform="translate(664.03,145.40) scale(0.7833,1.0)"><text font-family="Liberation Serif" font-size="46">(</text></g>
<g transform="translate(679.40,145.40) scale(1.0250,1.0)"><text font-family="Liberation Serif" font-style="italic" font-size="39.5">s</text></g>
<g transform="translate(699.32,131.90) scale(1.2167,1.0)"><text font-family="Liberation Serif" font-style="italic" stroke="#000" stroke-width="0.2" font-size="28.439999999999998">E</text></g>
<g transform="translate(697.50,155.60) scale(1.0138,1.0)"><text font-family="Liberation Serif" stroke="#000" stroke-width="0.3" font-size="28.439999999999998">44</text></g>
<g transform="translate(731.18,145.40) scale(0.7192,1.0)"><text font-family="Liberation Serif" font-size="46">)</text></g>
<g transform="translate(570.80,193.20) scale(1.1513,1.0)"><text font-family="Liberation Serif" font-style="italic" stroke="#fff" stroke-width="0.3" font-size="39.5">imag</text></g>
<g transform="translate(664.03,193.20) scale(0.7833,1.0)"><text font-family="Liberation Serif" font-size="46">(</text></g>
<g transform="translate(678.10,193.20) scale(0.9375,1.0)"><text font-family="Liberation Serif" font-style="italic" font-size="39.5">ε</text></g>
<g transform="translate(696.32,178.10) scale(1.1765,1.0)"><text font-family="Liberation Serif" font-style="italic" stroke="#000" stroke-width="0.2" font-size="28.439999999999998">T</text></g>
<g transform="translate(695.91,202.50) scale(1.0958,1.0)"><text font-family="Liberation Serif" stroke="#000" stroke-width="0.3" font-size="28.439999999999998">11</text></g>
<g transform="translate(731.18,193.20) scale(0.7192,1.0)"><text font-family="Liberation Serif" font-size="46">)</text></g>
<g transform="translate(570.80,235.70) scale(1.1513,1.0)"><text font-family="Liberation Serif" font-style="italic" stroke="#fff" stroke-width="0.3" font-size="39.5">imag</text></g>
<g transform="translate(664.03,235.70) scale(0.7833,1.0)"><text font-family="Liberation Serif" font-size="46">(</text></g>
<g transform="translate(674.40,235.70) scale(0.9786,1.0)"><text font-family="Liberation Serif" font-style="italic" font-size="39.5">s</text></g>
<g transform="translate(694.25,223.10) scale(1.1472,1.0)"><text font-family="Liberation Serif" font-style="italic" stroke="#000" stroke-width="0.2" font-size="28.439999999999998">E</text></g>
<g transform="translate(690.84,248.10) scale(1.0630,1.0)"><text font-family="Liberation Serif" stroke="#000" stroke-width="0.3" font-size="28.439999999999998">33</text></g>
<g transform="translate(730.48,235.70) scale(0.7692,1.0)"><text font-family="Liberation Serif" font-size="46">)</text></g>
</g>
</svg>
</body></html>
